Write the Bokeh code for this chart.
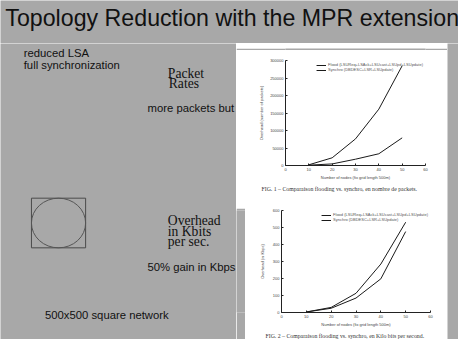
from bokeh.plotting import figure
from bokeh.layouts import column, row
from bokeh.models import (Range1d, Label, FixedTicker, BasicTickFormatter, Legend,
                          LegendItem, Title)
from bokeh.embed import file_html
from bokeh.resources import INLINE

# ---------------- data ----------------
slide_title = "Topology Reduction with the MPR extension"
nodes = [10, 20, 30, 40, 50]
flood_packets = [2000, 22000, 76000, 161000, 285000]
synchro_packets = [1000, 4500, 18000, 33500, 79000]
flood_kbps = [3, 30, 113, 285, 531]
synchro_kbps = [3, 25, 85, 198, 476]
x_ticks = [0, 10, 20, 30, 40, 50, 60]
packet_ticks = [0, 50000, 100000, 150000, 200000, 250000, 300000]
kbps_ticks = [0, 100, 200, 300, 400, 500, 600]
flood_label = "Flood (LSUReq+LSAck+LSUcast+LSUpd+LSUpdate)"
synchro_label = "Synchro (DBDESC+LSR+LSUpdate)"
caption1 = "FIG. 1 \u2013 Comparaison flooding vs. synchro, en nombre de packets."
caption2 = "FIG. 2 \u2013 Comparaison flooding vs. synchro, en Kilo bits per second."
xlabel = "Number of nodes (fix grid length 500m)"
ylabel1 = "Overhead (number of packets)"
ylabel2 = "Overhead (in Kbps)"

# ---------------- styling ----------------
GRAY = "#a8a8a8"
INK = "#111111"
SX = 458 / 474
SY = 339 / 355
FS = 0.96
SANS = "Liberation Sans"
SERIF = "Liberation Serif"


def slide_fig(x0, x1, y0, y1, w, h):
    p = figure(width=w, height=h, x_range=Range1d(x0, x1), y_range=Range1d(y1, y0),
               toolbar_location=None, output_backend="svg", min_border=0,
               x_axis_location=None, y_axis_location=None, title_location=None,
               background_fill_color=GRAY, border_fill_color=GRAY, outline_line_color=None)
    p.xgrid.visible = False
    p.ygrid.visible = False
    return p


def add_text(p, x, y, text, size, font, color=INK):
    # y is the text baseline (reference pixels); place by the middle of the capitals
    p.add_layout(Label(x=x, y=y - 0.36 * size, text=text, text_font_size=f"{size * FS:.1f}px",
                       text_font=font, text_color=color, text_baseline="middle",
                       text_align="left"))


TOP_Y = 45      # bottom of the title band (reference px)
PANEL_Y = 52    # top of the first chart panel
W_LEFT = round(244 * SX)
W_CENTER = round(218 * SX)
W_RIGHT = 458 - W_LEFT - W_CENTER
H_TOP = round(TOP_Y * SY)
H_MID = 339 - H_TOP
H_GAP = round((PANEL_Y - TOP_Y) * SY)
H_C1 = round(165 * SY)
H_C2 = H_MID - H_GAP - H_C1
W_SP = round(9 * SX)
W_C2 = W_CENTER - W_SP

# title band
top = slide_fig(0, 474, 0, TOP_Y, 458, H_TOP)
add_text(top, 5, 27, slide_title, 24.2, SANS)

# left text area
left = slide_fig(0, 244, TOP_Y, 355, W_LEFT, H_MID)
add_text(left, 24, 59, "reduced LSA", 11.8, SANS)
add_text(left, 24, 72, "full synchronization", 11.8, SANS)
add_text(left, 173, 82, "Packet", 14.2, SERIF)
add_text(left, 174, 92.5, "Rates", 14.2, SERIF)
add_text(left, 152, 117, "more packets but", 11.8, SANS)
add_text(left, 173, 236, "Overhead", 14.2, SERIF)
add_text(left, 173, 247.5, "in Kbits", 14.2, SERIF)
add_text(left, 173, 257.5, "per sec.", 14.2, SERIF)
add_text(left, 152, 283, "50% gain in Kbps", 11.8, SANS)
add_text(left, 46, 334, "500x500 square network", 11.8, SANS)

net_cx, net_cy, net_w, net_h = [60], [233], 56, 52
left.rect(x=net_cx, y=net_cy, width=net_w, height=net_h, fill_color=None,
          line_color="#4a4a4a", line_width=1)
left.ellipse(x=net_cx, y=net_cy, width=net_w, height=net_h, fill_color=None,
             line_color="#555555", line_width=1)

right = slide_fig(0, 12, TOP_Y, 355, W_RIGHT, H_MID)
gap = slide_fig(0, 218, TOP_Y, PANEL_Y, W_CENTER, H_GAP)
spacer = slide_fig(0, 9, 217, 355, W_SP, H_C2)


def chart(w, h, bl, br, bt, bb, ymax, yticks, flood, synchro, ylab, caption, cap_off, ylab_standoff):
    p = figure(width=w, height=h, x_range=Range1d(0, 60), y_range=Range1d(0, ymax),
               toolbar_location=None, output_backend="svg", title_location=None,
               min_border_left=bl, min_border_right=br, min_border_top=bt, min_border_bottom=bb,
               background_fill_color="white", border_fill_color="white", outline_line_color=None)
    p.xgrid.visible = False
    p.ygrid.visible = False
    p.xaxis.ticker = FixedTicker(ticks=x_ticks)
    p.yaxis.ticker = FixedTicker(ticks=yticks)
    p.yaxis.formatter = BasicTickFormatter(use_scientific=False)
    for ax in p.axis:
        ax.axis_line_color = "#222222"
        ax.major_tick_line_color = "#222222"
        ax.major_tick_in = 2
        ax.major_tick_out = 0
        ax.minor_tick_line_color = None
        ax.major_label_text_font = SANS
        ax.major_label_text_font_size = "4px"
        ax.major_label_text_color = "#444444"
        ax.major_label_standoff = 2
        ax.axis_label_text_font = SANS
        ax.axis_label_text_font_size = "4px"
        ax.axis_label_text_font_style = "normal"
        ax.axis_label_text_color = "#444444"
    p.xaxis.axis_label = xlabel
    p.xaxis.axis_label_standoff = 1
    p.yaxis.axis_label = ylab
    p.yaxis.axis_label_standoff = ylab_standoff
    r1 = p.line(nodes, flood, line_color="#1a1a1a", line_width=1)
    r2 = p.line(nodes, synchro, line_color="#1a1a1a", line_width=1)
    lg = Legend(items=[LegendItem(label=flood_label, renderers=[r1]),
                       LegendItem(label=synchro_label, renderers=[r2])],
                location="top_right", label_text_font=SANS, label_text_font_size="4px",
                label_text_color="#555555", label_height=4, glyph_height=4, glyph_width=10,
                spacing=0, padding=1, margin=2, label_standoff=2,
                background_fill_alpha=0, border_line_color=None)
    p.add_layout(lg)
    p.add_layout(Title(text=caption, align="left", offset=cap_off, text_font=SERIF,
                       text_font_size="5.8px", text_font_style="normal", text_color="#333333",
                       standoff=2), "below")
    return p


chart1 = chart(W_CENTER, H_C1, round(50.3 * SX), round(22.7 * SX), round(10.3 * SY),
               H_C1 - round(10.3 * SY) - round(110 * SY), 300000, packet_ticks,
               flood_packets, synchro_packets, ylabel1, caption1, -24, 3)
chart2 = chart(W_C2, H_C2, round(37 * SX), round(18 * SX), 2,
               H_C2 - 2 - round(110 * SY), 600, kbps_ticks,
               flood_kbps, synchro_kbps, ylabel2, caption2, -16, 5)

page = column(top, row(left, column(gap, chart1, row(spacer, chart2)), right))

open("out.html", "w").write(file_html(page, INLINE))
